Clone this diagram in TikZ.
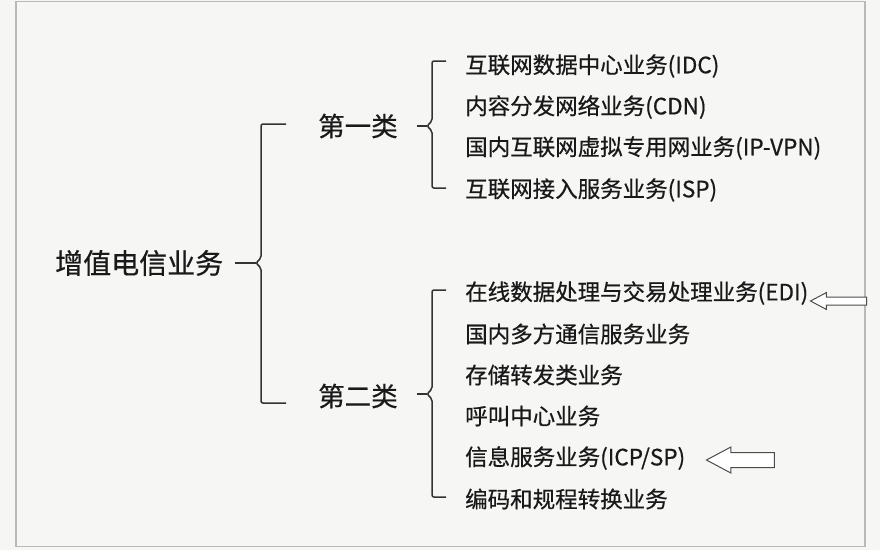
\documentclass[tikz,border=0pt]{standalone}
\usepackage{fontspec}
\setmainfont{Noto Sans CJK SC}[FakeBold=0.6]
\usepackage{xcolor}
\usetikzlibrary{shapes.arrows}

\begin{document}
\begin{tikzpicture}[x=1pt,y=-1pt,
    item/.style={anchor=west, inner sep=0pt, text=black!90, font=\fontsize{22.5}{27}\selectfont},
    cat/.style={anchor=west, inner sep=0pt, text=black!90, font=\fontsize{26.5}{30}\selectfont},
    brk/.style={line width=1.5pt, draw=black!80, rounded corners=2pt},
    hint/.style={single arrow, shape border rotate=180, single arrow tip angle=56,
        draw=black!70, fill=white, line width=1pt, inner xsep=0pt, anchor=tip}]
    \useasboundingbox[fill={rgb,255:red,246;green,247;blue,245}] (0,0) rectangle (880,550);
    \draw[gray!55, line width=1.2pt] (16,1.5) rectangle (865,546.5);

    \node[cat, font=\fontsize{28}{32}\selectfont] (root) at (55,263) {增值电信业务};
    \node[cat] (first) at (318,126) {第一类};
    \node[cat] (second) at (318,396) {第二类};

    \node[item] (idc) at (465,66) {互联网数据中心业务(IDC)};
    \node[item] (cdn) at (465,107) {内容分发网络业务(CDN)};
    \node[item] (vpn) at (465,148) {国内互联网虚拟专用网业务(IP-VPN)};
    \node[item] (isp) at (465,190) {互联网接入服务业务(ISP)};

    \node[item] (edi) at (465,293) {在线数据处理与交易处理业务(EDI)};
    \node[item] (multi) at (465,334) {国内多方通信服务业务};
    \node[item] (store) at (465,375) {存储转发类业务};
    \node[item] (call) at (465,416) {呼叫中心业务};
    \node[item] (icp) at (465,458) {信息服务业务(ICP/SP)};
    \node[item] (code) at (465,499) {编码和规程转换业务};

    \coordinate (tipA) at (256,263);
    \coordinate (tipB) at (427,126);
    \coordinate (tipC) at (427,394);

    % brackets
    \draw[brk] (286,124) -- (261,124) -- (261,258) -- (tipA) -- (261,268) -- (261,403) -- (286,403);
    \draw[brk] (446,61) -- (432,61) -- (432,121) -- (tipB) -- (432,131) -- (432,188) -- (446,188);
    \draw[brk] (446,290) -- (432,290) -- (432,389) -- (tipC) -- (432,399) -- (432,497) -- (446,497);
    \draw[brk] ([xshift=12pt]root.east) -- (tipA);
    \draw[brk] ([xshift=19pt]first.east |- tipB) -- (tipB);
    \draw[brk] ([xshift=19pt]second.east |- tipC) -- (tipC);

    \node[hint, minimum height=56, minimum width=16, inner ysep=3.5pt,
        single arrow head extend=4.5pt] (arrEDI) at ([shift={(1,8)}]edi.east) {};
    \node[hint, minimum height=68, minimum width=25, inner ysep=7pt,
        single arrow head extend=5.5pt] (arrICP) at ([shift={(20,2)}]icp.east) {};
\end{tikzpicture}
\end{document}
